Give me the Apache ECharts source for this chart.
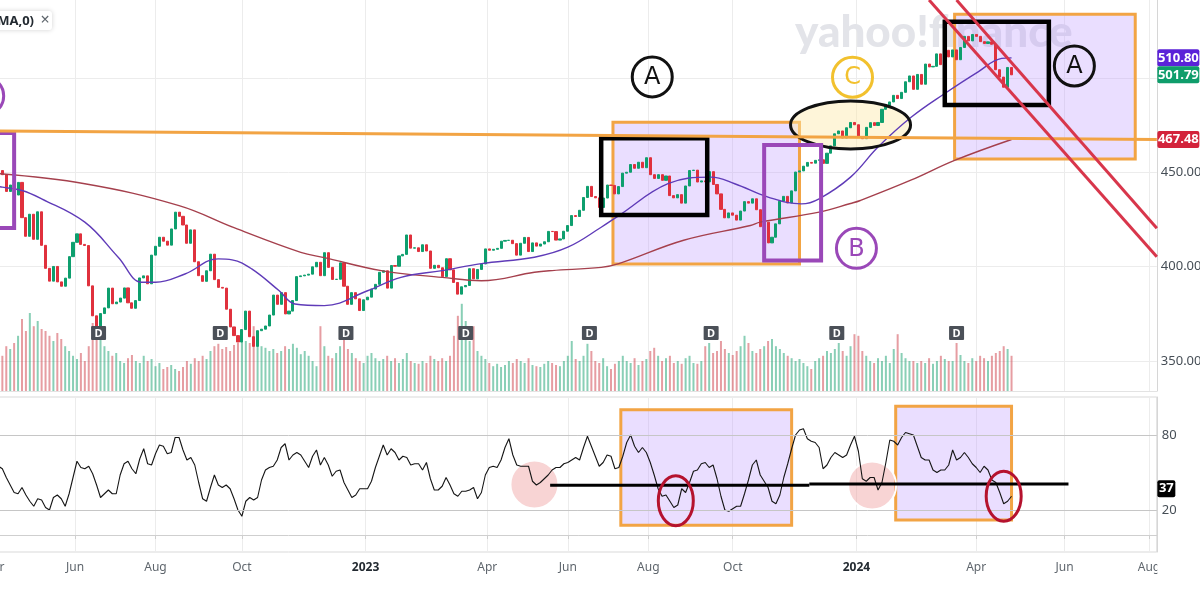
<!DOCTYPE html>
<html><head><meta charset="utf-8">
<script src="https://cdn.jsdelivr.net/npm/echarts@6/dist/echarts.min.js"></script>
<style>html,body{margin:0;padding:0;background:#fff}#c{width:1200px;height:600px}</style>
</head><body><div id="c"></div><script>
// ---------- axis categories (trading days) ----------
const holidays = ['2022-04-15','2022-05-30','2022-06-20','2022-07-04','2022-09-05','2022-11-24','2022-12-26','2023-01-02','2023-01-16','2023-02-20','2023-04-07','2023-05-29','2023-06-19','2023-07-04','2023-09-04','2023-11-23','2023-12-25','2024-01-01','2024-01-15','2024-02-19','2024-03-29'];
const firstDay = '2022-04-01', lastAxisDay = '2024-08-07';
function fmt(d){return d.toISOString().slice(0,10);}
function buildDays(start,end){const out=[];const d=new Date(start+'T00:00:00Z');const e=new Date(end+'T00:00:00Z');while(d<=e){const w=d.getUTCDay();const s=fmt(d);if(w!==0&&w!==6&&holidays.indexOf(s)<0)out.push(s);d.setUTCDate(d.getUTCDate()+1);}return out;}
const categories = buildDays(firstDay,lastAxisDay);
const tickDates = ['2022-04-01','2022-06-01','2022-08-01','2022-10-03','2023-01-03','2023-04-03','2023-06-01','2023-08-01','2023-10-02','2024-01-02','2024-04-01','2024-06-03','2024-08-01'];
const yearTicks = ['2023-01-03','2024-01-02'];
const priceTicks = [350,400,450,500];
const priceLabelTicks = [350,400,450];
const rsiTicks = [20,80];

// ---------- price data: one sample every 2nd trading day ----------
const firstOpen = 453.3;
const closes = [452.9,451.0,448.8,439.9,443.3,438.0,444.7,426.0,416.1,427.8,
414.5,429.1,411.3,399.1,392.3,400.1,391.9,389.6,393.9,405.3,
412.9,417.4,411.8,411.2,389.8,373.9,366.7,375.1,378.1,388.6,
380.3,381.2,383.3,388.7,380.8,377.9,382.0,394.0,395.1,390.9,
406.1,410.8,415.6,413.5,411.4,420.0,428.9,426.7,422.1,412.4,
419.5,402.6,395.2,392.2,397.8,406.6,393.1,389.0,388.6,377.4,
368.0,363.4,360.0,366.6,376.4,362.8,357.7,366.0,366.8,368.5,
374.3,384.9,380.0,386.2,374.9,376.4,382.0,394.7,395.1,395.5,
396.0,399.9,402.3,395.2,407.4,399.6,393.2,393.3,402.0,389.6,
380.0,386.2,382.9,376.7,382.4,383.8,388.1,390.6,397.0,397.8,
388.6,400.6,400.2,405.7,406.5,416.8,409.8,410.0,408.0,411.6,
408.3,399.1,400.7,399.4,394.7,404.2,398.3,391.6,385.4,389.3,
390.0,398.9,393.5,398.5,401.4,409.4,408.7,409.2,409.7,413.5,
413.9,414.0,412.2,406.1,412.4,415.5,408.0,412.6,410.9,412.0,
413.2,418.7,418.6,414.1,414.7,418.8,421.8,427.1,426.6,429.9,
436.7,442.6,437.2,436.5,431.4,436.4,443.3,443.1,438.6,442.5,
449.6,450.1,454.2,452.2,455.4,452.5,457.8,448.8,446.8,448.8,
445.8,448.1,437.7,436.5,438.2,433.7,442.8,451.0,451.2,444.9,
445.5,445.0,450.4,443.6,438.6,430.4,425.9,428.5,427.3,424.7,
429.5,434.5,433.7,436.0,430.2,421.2,423.6,412.6,415.6,422.7,
434.7,437.3,433.8,440.2,450.2,450.8,453.3,455.3,454.9,456.4,
456.7,454.8,460.2,464.1,470.5,472.0,468.3,473.7,476.5,475.3,
468.8,467.9,473.9,476.4,474.9,476.5,483.5,485.4,487.4,490.9,
489.2,492.5,498.1,501.2,494.1,502.0,496.8,507.5,506.0,506.3,
512.9,507.2,514.8,511.3,515.0,509.8,516.3,522.2,519.8,523.2,
522.2,519.4,518.4,519.3,518.0,504.5,500.6,495.2,505.7,501.79];
const volumes = [95,100,88,112,105,120,138,180,150,195,
162,175,155,150,138,125,145,130,112,100,
88,80,95,75,112,170,155,138,112,100,
88,95,75,70,82,90,75,70,88,75,
80,62,70,55,60,65,55,50,60,75,
68,82,75,88,80,100,112,118,105,110,
100,115,120,138,125,120,162,130,112,108,
100,105,95,100,112,105,118,108,92,100,
88,75,62,162,112,88,82,95,112,130,
105,95,82,75,70,88,95,82,75,80,
88,75,82,70,80,95,75,70,68,75,
70,88,80,75,82,75,88,138,188,218,
175,125,162,100,88,80,70,62,68,60,
65,75,70,80,75,70,82,65,62,60,
68,75,70,65,62,75,88,125,80,75,
88,118,100,75,70,82,62,55,68,75,
88,75,70,82,65,75,80,100,108,88,
75,82,88,70,75,68,82,88,70,68,
75,112,120,95,100,125,105,95,90,100,
112,138,120,100,95,105,112,125,130,112,
105,95,88,82,75,80,70,62,55,75,
82,88,100,95,105,120,100,88,112,142,
138,100,88,75,70,82,75,88,70,105,
142,95,82,75,75,70,75,70,82,68,
75,88,80,75,75,120,90,75,70,82,
75,88,82,75,88,95,100,112,105,88];
const rsi = [56,55,53,46,40,34,33,38,32,27,
23,29,28,22,20,30,32,29,23,33,
46,59,54,53,55,49,40,30,33,36,
33,33,48,57,59,53,49,61,69,57,
56,65,72,71,65,66,78,78,68,60,
62,56,42,29,27,38,48,40,38,40,
37,29,20,15,27,30,28,30,44,52,
54,55,60,70,73,60,64,66,64,59,
54,63,68,56,62,56,47,51,52,42,
36,30,32,37,37,37,43,54,63,72,
64,69,66,60,63,62,56,57,57,52,
58,45,36,36,39,46,40,33,31,35,
35,36,38,29,34,48,54,55,54,60,
70,77,64,56,55,55,55,43,40,42,
45,48,52,54,54,57,58,60,62,60,
70,79,71,63,55,58,64,63,53,54,
63,74,80,71,66,70,66,58,48,37,
31,32,27,22,24,37,34,42,51,52,
57,58,54,56,45,31,20,19,21,23,
23,33,44,56,60,48,43,38,27,25,
32,46,57,69,80,84,85,77,75,74,
70,53,56,62,66,64,62,64,72,79,
67,45,43,46,46,36,42,58,76,75,
72,78,82,81,80,71,62,60,60,52,
50,52,52,56,68,60,62,66,62,57,
54,50,55,52,44,42,34,25,27,31];
const rsiCurrent = 37;
const ma50 = [['2022-04-01',443.0],['2022-04-07',442.2],['2022-04-22',440.4],['2022-05-06',436.0],['2022-06-08',423.6],['2022-07-05',405.0],['2022-07-21',391.7],['2022-08-01',391.7],['2022-08-22',396.1],['2022-09-15',404.1],['2022-09-26',403.6],['2022-10-10',398.8],['2022-10-28',387.2],['2022-11-09',380.2],['2022-12-01',379.3],['2023-01-04',387.2],['2023-01-30',394.3],['2023-03-01',397.9],['2023-03-29',401.6],['2023-05-08',405.0],['2023-06-01',410.3],['2023-06-27',420.9],['2023-07-11',427.1],['2023-08-15',444.0],['2023-09-15',447.5],['2023-10-03',444.0],['2023-10-26',436.9],['2023-11-20',433.3],['2023-12-04',436.0],['2023-12-27',447.5],['2024-01-18',463.5],['2024-02-12',479.4],['2024-03-07',491.9],['2024-04-02',503.4],['2024-04-18',510.5],['2024-04-25',510.80]];
const ma200 = [['2022-04-01',449.5],['2022-06-08',444.0],['2022-08-17',432.4],['2022-09-27',420.7],['2022-11-14',407.6],['2022-12-01',404.8],['2023-01-13',397.9],['2023-03-01',394.3],['2023-03-29',392.5],['2023-05-08',397.0],['2023-05-19',397.9],['2023-06-27',399.6],['2023-07-11',401.6],['2023-08-25',414.0],['2023-10-13',421.8],['2023-10-20',423.6],['2023-12-04',428.9],['2023-12-27',433.5],['2024-01-04',435.1],['2024-02-12',446.0],['2024-03-14',456.4],['2024-04-25',467.48]];
const dividendDates = ['2022-06-17','2022-09-16','2022-12-16','2023-03-17','2023-06-16','2023-09-15','2023-12-15','2024-03-15'];

// ---------- hand drawn annotations (data space) ----------
const zoneRects = [['2023-07-06',476.6,'2023-11-17',401.4],['2024-03-14',533.9,'2024-07-23',457.1]];
const blackRects = [['2023-06-27',468.1,'2023-09-13',427.4],['2024-03-07',530.0,'2024-05-22',485.8]];
const purpleRects = [['2022-03-23',470.9,'2022-04-18',420.5],['2023-10-24',464.6,'2023-12-05',403.2]];
const letterCircles = [['2023-08-03',500.7,'A','#111111'],['2024-06-10',506.5,'A','#111111'],['2024-01-02',409.7,'B','#9a48b8'],['2023-12-28',500.5,'C','#f2c12e']];
const offRing = ['2022-03-25',490.6];
const ellipseC = ['2023-12-27',475.2];
const trendLines = [['2022-04-01',472.0,'2024-08-07',467.5,'#f2a444'],['2024-02-26',541.5,'2024-08-07',405.3,'#d8364b'],['2024-03-15',541.5,'2024-08-07',420.4,'#d8364b']];
const rsiZones = [['2023-07-12',100.3,'2023-11-13',7.8],['2024-01-31',103.0,'2024-04-25',12.1]];
const rsiSpots = [['2023-05-08',40.4],['2024-01-12',39.7]];
const rsiRings = [['2023-08-21',27.4],['2024-04-19',31.1]];
const rsiLevels = [['2023-05-18',39.8,'2023-11-27',39.8],['2023-11-27',40.9,'2024-06-05',40.9]];

// ---------- build series data ----------
const UP='#0e9f6e', DOWN='#e0313d';
const candleData=[], volData=[], rsiData=[];
for(let k=0;k<closes.length;k++){
  const d=categories[2*k];
  const o=k===0?firstOpen:closes[k-1], c=closes[k];
  candleData.push([d,o,c,Math.min(o,c),Math.max(o,c)]);
  volData.push({value:[d,volumes[k]],itemStyle:{color:c>=o?'rgba(20,160,110,0.5)':'rgba(205,60,70,0.5)'}});
  rsiData.push([d,rsi[k]]);
}
const tickSet=new Set(tickDates);
const tickFn=(i,v)=>tickSet.has(v);
const MON=['Jan','Feb','Mar','Apr','May','Jun','Jul','Aug','Sep','Oct','Nov','Dec'];

const X0=-5.5, STEP=1.9634;
const N=categories.length;
const gridW=(N-1)*STEP;

const chart=echarts.init(document.getElementById('c'),null,{renderer:'canvas',devicePixelRatio:1});
chart.setOption({
  animation:false,
  backgroundColor:'#ffffff',
  textStyle:{fontFamily:'Noto Sans'},
  grid:[
    {left:X0,top:0,width:gridW,height:391,containLabel:false,outerBoundsMode:'none'},
    {left:X0,top:397,width:gridW,height:155,show:true,borderColor:'#d9d9d9',borderWidth:1,containLabel:false,outerBoundsMode:'none'}
  ],
  xAxis:[
    {type:'category',gridIndex:0,data:categories,boundaryGap:false,
     axisLine:{show:true,lineStyle:{color:'#e3e3e3'}},axisTick:{show:false},axisLabel:{show:false},
     splitLine:{show:true,interval:tickFn,lineStyle:{color:'#ececec',width:1}}},
    {type:'category',gridIndex:1,data:categories,boundaryGap:false,
     axisLine:{show:true,lineStyle:{color:'#cfcfcf'}},
     axisTick:{show:true,interval:tickFn,length:4,lineStyle:{color:'#cfcfcf'}},
     axisLabel:{interval:tickFn,margin:10,color:'#5f666d',fontSize:12,fontFamily:'Noto Sans',
       formatter:(v)=>{if(yearTicks.indexOf(v)>=0)return '{y|'+v.slice(0,4)+'}';return MON[parseInt(v.slice(5,7),10)-1];},
       rich:{y:{fontWeight:'bold',color:'#232a31',fontSize:12,fontFamily:'Noto Sans'}}},
     splitLine:{show:true,interval:tickFn,lineStyle:{color:'#ececec',width:1}}}
  ],
  yAxis:[
    {type:'value',gridIndex:0,position:'right',min:334,max:541.5,
     axisLine:{show:true,lineStyle:{color:'#d6d6d6'}},
     axisTick:{show:false,customValues:priceTicks},
     axisLabel:{customValues:priceLabelTicks,formatter:(v)=>Number(v).toFixed(2),color:'#464e56',fontSize:13,margin:4,fontFamily:'Noto Sans'},
     splitLine:{show:true,lineStyle:{color:'#ececec'}}},
    {type:'value',gridIndex:0,min:0,max:977.5,show:false,splitLine:{show:false}},
    {type:'value',gridIndex:1,position:'right',min:-13.6,max:110.4,
     axisLine:{show:true,lineStyle:{color:'#d6d6d6'}},
     axisTick:{show:false,customValues:rsiTicks},
     axisLabel:{customValues:rsiTicks,color:'#464e56',fontSize:13,margin:5,fontFamily:'Noto Sans'},
     splitLine:{show:false}}
  ],
  series:[
    {name:'Volume',type:'bar',xAxisIndex:0,yAxisIndex:1,data:volData,barWidth:2,z:1,silent:true},
    {name:'Price',type:'candlestick',xAxisIndex:0,yAxisIndex:0,data:candleData,encode:{x:0,y:[1,2,3,4]},barWidth:2.6,
     itemStyle:{color:UP,color0:DOWN,borderColor:UP,borderColor0:DOWN,borderWidth:1}},
    {name:'MA200',type:'line',xAxisIndex:0,yAxisIndex:0,data:ma200,smooth:0.4,showSymbol:false,
     lineStyle:{color:'#a5404d',width:1.4},z:3},
    {name:'MA50',type:'line',xAxisIndex:0,yAxisIndex:0,data:ma50,smooth:0.4,showSymbol:false,
     lineStyle:{color:'#5f3bb8',width:1.4},z:3},
    {name:'RSI',type:'line',xAxisIndex:1,yAxisIndex:2,data:rsiData,showSymbol:false,
     lineStyle:{color:'#151515',width:1.1},z:4,
     markLine:{silent:true,symbol:['none','none'],label:{show:false},
       lineStyle:{color:'#c6c6c6',width:1,type:'solid'},data:[{yAxis:rsiTicks[0]},{yAxis:rsiTicks[1]}]}}
  ]
});

// ---------- overlay drawing (converted through the chart's own axes) ----------
function xIndex(d){
  const i=categories.indexOf(d); if(i>=0)return i;
  if(d<categories[0]){let t=new Date(d+'T00:00:00Z'),e=new Date(categories[0]+'T00:00:00Z'),n=0;
    while(t<e){const w=t.getUTCDay();if(w&&w<6)n++;t.setUTCDate(t.getUTCDate()+1);}return -n;}
  for(let j=0;j<categories.length;j++)if(categories[j]>d)return j;
  return categories.length-1;
}
function P(d,v,panel){
  const f=panel===1?{xAxisIndex:1,yAxisIndex:2}:{xAxisIndex:0,yAxisIndex:0};
  return chart.convertToPixel(f,[xIndex(d),v]);
}
function rectOf(a,panel){const p1=P(a[0],a[1],panel),p2=P(a[2],a[3],panel);
  return {x:Math.min(p1[0],p2[0]),y:Math.min(p1[1],p2[1]),width:Math.abs(p2[0]-p1[0]),height:Math.abs(p2[1]-p1[1])};}
const G=[];
const LAV='rgba(185,145,255,0.30)', ORG='#f2a444';
// watermark
G.push({type:'text',x:795,y:33,z:0,style:{text:'yahoo!finance',fill:'#e3e4e9',font:'900 44px Lato',textAlign:'left',textVerticalAlign:'middle',align:'left',verticalAlign:'middle'}});
// zones
zoneRects.forEach(r=>G.push({type:'rect',z:1,shape:rectOf(r,0),style:{fill:LAV,stroke:ORG,lineWidth:3}}));
rsiZones.forEach(r=>G.push({type:'rect',z:1,shape:rectOf(r,1),style:{fill:LAV,stroke:ORG,lineWidth:3}}));
// C ellipse fill (under candles)
(function(){const c=P(ellipseC[0],ellipseC[1],0);
  G.push({type:'ellipse',z:1,shape:{cx:c[0],cy:c[1],rx:60,ry:24},style:{fill:'rgba(252,232,170,0.45)',stroke:null}});
  G.push({type:'ellipse',z:10,shape:{cx:c[0],cy:c[1],rx:60,ry:24},style:{fill:null,stroke:'#111',lineWidth:3}});})();
// RSI pink spots
rsiSpots.forEach(s=>{const c=P(s[0],s[1],1);G.push({type:'circle',z:1,shape:{cx:c[0],cy:c[1],r:24},style:{fill:'rgba(240,160,160,0.45)',stroke:'#ffffff',lineWidth:2}});});
// rectangles
blackRects.forEach(r=>G.push({type:'rect',z:10,shape:rectOf(r,0),style:{fill:null,stroke:'#000',lineWidth:4.5}}));
purpleRects.forEach(r=>G.push({type:'rect',z:10,shape:rectOf(r,0),style:{fill:null,stroke:'#9a48b8',lineWidth:4}}));
// trend lines
trendLines.forEach(l=>{const a=P(l[0],l[1],0),b=P(l[2],l[3],0);G.push({type:'line',z:11,shape:{x1:a[0],y1:a[1],x2:b[0],y2:b[1]},style:{stroke:l[4],lineWidth:3}});});
// off-screen purple ring
(function(){const c=P(offRing[0],offRing[1],0);G.push({type:'circle',z:10,shape:{cx:c[0],cy:c[1],r:19},style:{fill:null,stroke:'#9a48b8',lineWidth:3}});})();
// letter circles
letterCircles.forEach(l=>{const c=P(l[0],l[1],0);
  G.push({type:'circle',z:12,shape:{cx:c[0],cy:c[1],r:20},style:{fill:null,stroke:l[3],lineWidth:3}});
  G.push({type:'text',z:12,x:c[0],y:c[1]+1,style:{text:l[2],fill:l[3],font:'24px "DejaVu Sans"',textAlign:'center',textVerticalAlign:'middle',align:'center',verticalAlign:'middle'}});});
// RSI rings and levels
rsiRings.forEach(s=>{const c=P(s[0],s[1],1);G.push({type:'ellipse',z:12,shape:{cx:c[0],cy:c[1],rx:17.5,ry:25},style:{fill:null,stroke:'#b5122e',lineWidth:3}});});
rsiLevels.forEach(l=>{const a=P(l[0],l[1],1),b=P(l[2],l[3],1);G.push({type:'line',z:11,shape:{x1:a[0],y1:a[1],x2:b[0],y2:b[1]},style:{stroke:'#000',lineWidth:3}});});
// dividend markers
const volBase=chart.convertToPixel({xAxisIndex:0,yAxisIndex:1},[0,0])[1];
dividendDates.forEach(d=>{const x=chart.convertToPixel({xAxisIndex:0,yAxisIndex:0},[xIndex(d),400])[0];
  G.push({type:'rect',z:8,shape:{x:x-7.5,y:volBase-65,width:15,height:14,r:1},style:{fill:'#4b5058'}});
  G.push({type:'text',z:9,x:x,y:volBase-57.5,style:{text:'D',fill:'#fff',font:'bold 11px "Noto Sans"',textAlign:'center',textVerticalAlign:'middle',align:'center',verticalAlign:'middle'}});});
// legend chip
G.push({type:'rect',z:20,shape:{x:-12,y:11,width:64,height:19,r:3},style:{fill:'#fff',shadowBlur:5,shadowColor:'rgba(0,0,0,0.18)'}});
G.push({type:'text',z:21,x:34,y:21,style:{text:'RSI (14,C,MA,0)',fill:'#232a31',font:'bold 13px "Noto Sans"',textAlign:'right',textVerticalAlign:'middle',align:'right',verticalAlign:'middle'}});
G.push({type:'text',z:21,x:45,y:20,style:{text:'\u00d7',fill:'#5f666d',font:'16px "Noto Sans"',textAlign:'center',textVerticalAlign:'middle',align:'center',verticalAlign:'middle'}});
// clip labels at the right column
const rightEdge=chart.convertToPixel({xAxisIndex:1,yAxisIndex:2},[N-1,0])[0];
G.push({type:'rect',z:15,shape:{x:rightEdge+0.5,y:553,width:60,height:47},style:{fill:'#fff'}});
// value badges
function badge(val,panel,color,txt){
  const y=panel===1?chart.convertToPixel({xAxisIndex:1,yAxisIndex:2},[0,val])[1]:chart.convertToPixel({xAxisIndex:0,yAxisIndex:0},[0,val])[1];
  const w=panel===1?18:42;
  G.push({type:'rect',z:30,shape:{x:rightEdge+0.5,y:y-8.5,width:w,height:17,r:2},style:{fill:color}});
  G.push({type:'text',z:31,x:rightEdge+0.5+w/2,y:y,style:{text:txt,fill:'#fff',font:'bold 13px "Noto Sans"',textAlign:'center',textVerticalAlign:'middle',align:'center',verticalAlign:'middle'}});
}
badge(ma50[ma50.length-1][1],0,'#5b22d8',ma50[ma50.length-1][1].toFixed(2));
badge(closes[closes.length-1],0,'#0f9d6b',closes[closes.length-1].toFixed(2));
badge(ma200[ma200.length-1][1],0,'#d3233b',ma200[ma200.length-1][1].toFixed(2));
badge(rsiCurrent,1,'#000',String(rsiCurrent));
chart.setOption({graphic:{elements:G}});
</script></body></html>
